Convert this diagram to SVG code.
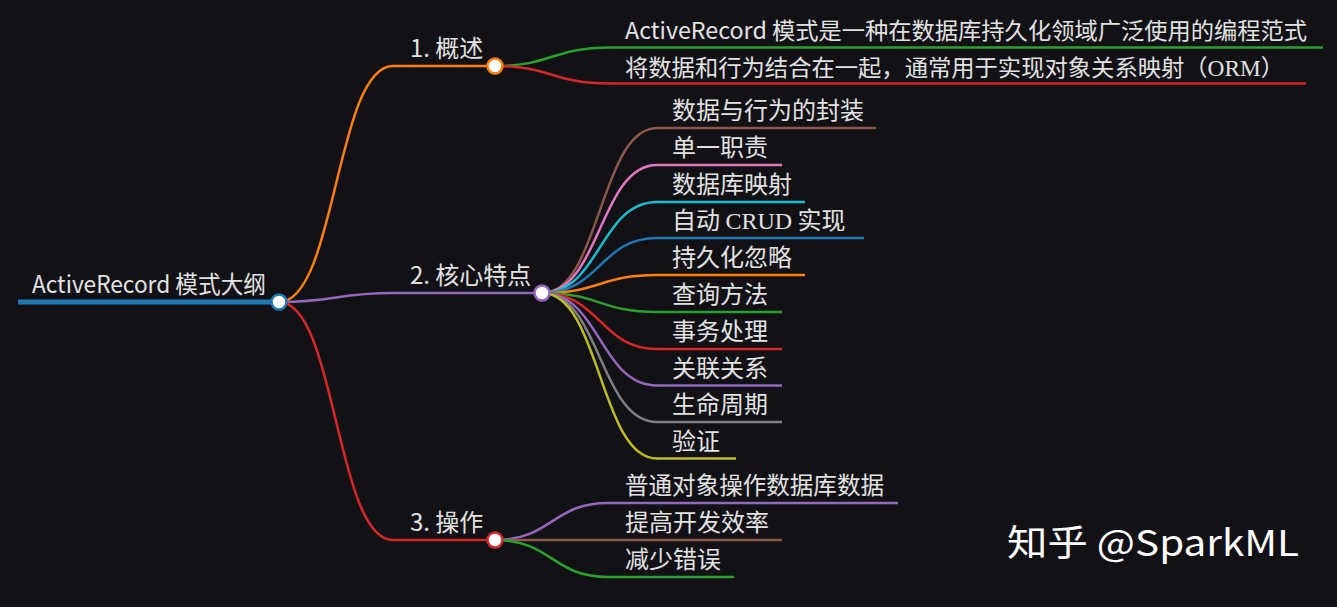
<svg xmlns="http://www.w3.org/2000/svg" width="1337" height="607" viewBox="0 0 1337 607">
<style>
text{font-family:"Noto Sans CJK SC","Noto Sans",sans-serif;font-size:24px;fill:#e2e2e2}
.serif{font-family:"Liberation Serif","Noto Serif",serif}
.sm{font-size:23px}
.link{fill:none;stroke-width:2.5;stroke-linecap:round}
.ul{fill:none;stroke-width:2.5;stroke-linecap:butt}
.dot{fill:#ffffff;stroke-width:2.5}
.wm{font-size:36px;fill:#ffffff}
</style>
<rect x="0" y="0" width="1337" height="607" fill="#121216"/>
<g id="connectors">
<path class="link" stroke="#ff7f0e" d="M279,302 C336,302 336,66 393,66"/>
<path class="link" stroke="#9467bd" d="M279,302 C336,302 336,293 393,293"/>
<path class="link" stroke="#d62728" d="M279,302 C336,302 336,540 393,540"/>
<path class="link" stroke="#2ca02c" stroke-width="2" d="M495,66 C552,66 552,47.5 610,47.5"/>
<path class="link" stroke="#d62728" stroke-width="2" d="M495,66 C552,66 552,83.5 610,83.5"/>
<path class="link" stroke="#8c564b" stroke-width="2" d="M542,293 C600,293 600,128 657,128"/>
<path class="link" stroke="#e377c2" stroke-width="2" d="M542,293 C600,293 600,165 657,165"/>
<path class="link" stroke="#17becf" stroke-width="2" d="M542,293 C600,293 600,202 657,202"/>
<path class="link" stroke="#1f77b4" stroke-width="2" d="M542,293 C600,293 600,238 657,238"/>
<path class="link" stroke="#ff7f0e" stroke-width="2" d="M542,293 C600,293 600,275 657,275"/>
<path class="link" stroke="#2ca02c" stroke-width="2" d="M542,293 C600,293 600,312 657,312"/>
<path class="link" stroke="#d62728" stroke-width="2" d="M542,293 C600,293 600,349 657,349"/>
<path class="link" stroke="#9467bd" stroke-width="2" d="M542,293 C600,293 600,385.5 657,385.5"/>
<path class="link" stroke="#7f7f7f" stroke-width="2" d="M542,293 C600,293 600,422 657,422"/>
<path class="link" stroke="#bcbd22" stroke-width="2" d="M542,293 C600,293 600,458.5 657,458.5"/>
<path class="link" stroke="#9467bd" stroke-width="2" d="M495,540 C552,540 552,503 608,503"/>
<path class="link" stroke="#8c564b" stroke-width="2" d="M495,540 C552,540 552,540 608,540"/>
<path class="link" stroke="#2ca02c" stroke-width="2" d="M495,540 C552,540 552,577 608,577"/>
</g>
<g id="root">
<line x1="18" y1="302" x2="279" y2="302" stroke="#1f77b4" stroke-width="5"/>
<text x="32" y="293" textLength="234" lengthAdjust="spacingAndGlyphs">ActiveRecord 模式大纲</text>
<circle class="dot" cx="279" cy="302" r="7.5" stroke="#1f77b4" stroke-width="3"/>
</g>
<g id="n1">
<line class="ul" x1="393" y1="66" x2="495" y2="66" stroke="#ff7f0e"/>
<text x="410" y="57">1. 概述</text>
<circle class="dot" cx="495" cy="66" r="7.5" stroke="#ff7f0e"/>
</g>
<g id="n1-1">
<line class="ul" x1="610" y1="47.5" x2="1323" y2="47.5" stroke="#2ca02c" stroke-width="2"/>
<text class="sm" x="625" y="39" textLength="682" lengthAdjust="spacingAndGlyphs">ActiveRecord 模式是一种在数据库持久化领域广泛使用的编程范式</text>
</g>
<g id="n1-2">
<line class="ul" x1="610" y1="83.5" x2="1306" y2="83.5" stroke="#d62728" stroke-width="2"/>
<text class="sm" x="625" y="76" textLength="659" lengthAdjust="spacingAndGlyphs">将数据和行为结合在一起，通常用于实现对象关系映射（<tspan class="serif">ORM</tspan>）</text>
</g>
<g id="n2">
<line class="ul" x1="393" y1="293" x2="542" y2="293" stroke="#9467bd"/>
<text x="410" y="284">2. 核心特点</text>
<circle class="dot" cx="542" cy="293" r="7.5" stroke="#9467bd"/>
</g>
<g id="n2-1">
<line class="ul" x1="657" y1="128" x2="876" y2="128" stroke="#8c564b" stroke-width="2"/>
<text x="672" y="119">数据与行为的封装</text>
</g>
<g id="n2-2">
<line class="ul" x1="657" y1="165" x2="782" y2="165" stroke="#e377c2" stroke-width="2"/>
<text x="672" y="156">单一职责</text>
</g>
<g id="n2-3">
<line class="ul" x1="657" y1="202" x2="805" y2="202" stroke="#17becf" stroke-width="2"/>
<text x="672" y="193">数据库映射</text>
</g>
<g id="n2-4">
<line class="ul" x1="657" y1="238" x2="864" y2="238" stroke="#1f77b4" stroke-width="2"/>
<text x="672" y="229">自动 <tspan class="serif">CRUD</tspan> 实现</text>
</g>
<g id="n2-5">
<line class="ul" x1="657" y1="275" x2="805" y2="275" stroke="#ff7f0e" stroke-width="2"/>
<text x="672" y="266">持久化忽略</text>
</g>
<g id="n2-6">
<line class="ul" x1="657" y1="312" x2="782" y2="312" stroke="#2ca02c" stroke-width="2"/>
<text x="672" y="303">查询方法</text>
</g>
<g id="n2-7">
<line class="ul" x1="657" y1="349" x2="782" y2="349" stroke="#d62728" stroke-width="2"/>
<text x="672" y="340">事务处理</text>
</g>
<g id="n2-8">
<line class="ul" x1="657" y1="385.5" x2="782" y2="385.5" stroke="#9467bd" stroke-width="2"/>
<text x="672" y="376.5">关联关系</text>
</g>
<g id="n2-9">
<line class="ul" x1="657" y1="422" x2="782" y2="422" stroke="#7f7f7f" stroke-width="2"/>
<text x="672" y="413">生命周期</text>
</g>
<g id="n2-10">
<line class="ul" x1="657" y1="458.5" x2="736" y2="458.5" stroke="#bcbd22" stroke-width="2"/>
<text x="672" y="449.5">验证</text>
</g>
<g id="n3">
<line class="ul" x1="393" y1="540" x2="495" y2="540" stroke="#d62728"/>
<text x="410" y="531">3. 操作</text>
<circle class="dot" cx="495" cy="540" r="7.5" stroke="#d62728"/>
</g>
<g id="n3-1">
<line class="ul" x1="608" y1="503" x2="898" y2="503" stroke="#9467bd" stroke-width="2"/>
<text x="625" y="494" textLength="259" lengthAdjust="spacingAndGlyphs">普通对象操作数据库数据</text>
</g>
<g id="n3-2">
<line class="ul" x1="608" y1="540" x2="782" y2="540" stroke="#8c564b" stroke-width="2"/>
<text x="625" y="531">提高开发效率</text>
</g>
<g id="n3-3">
<line class="ul" x1="608" y1="577" x2="734" y2="577" stroke="#2ca02c" stroke-width="2"/>
<text x="625" y="568">减少错误</text>
</g>
<text class="wm" x="1007" y="556" textLength="292" lengthAdjust="spacingAndGlyphs">知乎 @SparkML</text>
</svg>
